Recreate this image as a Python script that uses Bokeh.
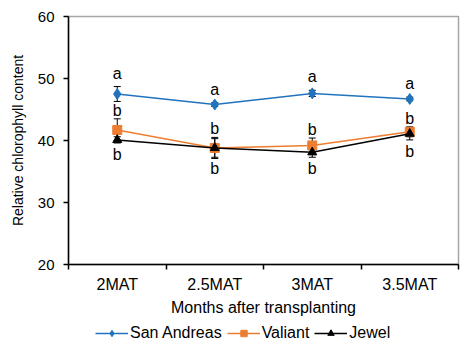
from bokeh.plotting import figure
from bokeh.layouts import column
from bokeh.models import (ColumnDataSource, Whisker, TeeHead, FixedTicker, Legend, LegendItem)
from bokeh.core.properties import value
from bokeh.embed import file_html
from bokeh.resources import INLINE

categories = ["2MAT", "2.5MAT", "3MAT", "3.5MAT"]
san_andreas = [47.5, 45.8, 47.6, 46.7]
san_andreas_err = [1.2, 0.3, 0.5, 0.3]
valiant = [41.7, 38.8, 39.2, 41.4]
valiant_err = [1.8, 1.7, 1.2, 0.8]
jewel = [40.1, 38.8, 38.1, 41.1]
jewel_err = [0.5, 1.5, 0.8, 1.0]
sa_letters = ["a", "a", "a", "a"]
va_letters = ["b", "b", "b", "b"]
je_letters = ["b", "b", "b", "b"]

FONT = "Liberation Sans"
xs = list(range(1, len(categories) + 1))
y_lo, y_hi = 20, 60

p = figure(frame_width=390, frame_height=248, output_backend="svg", toolbar_location=None,
           x_range=(0.5, len(categories) + 0.5), y_range=(y_lo, y_hi),
           min_border_left=68, min_border_right=16, min_border_top=16, min_border_bottom=56)
p.xgrid.visible = False
p.ygrid.visible = False
p.outline_line_color = "#a6a6a6"
p.outline_line_width = 1.5
p.background_fill_color = "white"

# axes
xa = p.xaxis[0]
xa.ticker = FixedTicker(ticks=xs, minor_ticks=[x + 0.5 for x in [0] + xs])
xa.major_label_overrides = {x: c for x, c in zip(xs, categories)}
xa.major_tick_out = 0
xa.major_tick_in = 0
xa.minor_tick_out = 5
xa.minor_tick_in = 0
xa.minor_tick_line_color = "black"
xa.minor_tick_line_width = 1.5
xa.axis_line_color = "black"
xa.axis_line_width = 1.5
xa.major_label_text_font = FONT
xa.major_label_text_font_size = "16px"
xa.major_label_text_color = "black"
xa.major_label_standoff = 6
xa.axis_label = "Months after transplanting"
xa.axis_label_text_font = FONT
xa.axis_label_text_font_size = "16px"
xa.axis_label_text_font_style = "normal"
xa.axis_label_text_color = "black"
xa.axis_label_standoff = 3

ya = p.yaxis[0]
ya.ticker = FixedTicker(ticks=[20, 30, 40, 50, 60], minor_ticks=[])
ya.major_tick_out = 5
ya.major_tick_in = 0
ya.major_tick_line_color = "black"
ya.major_tick_line_width = 1.5
ya.axis_line_color = "black"
ya.axis_line_width = 1.5
ya.major_label_text_font = FONT
ya.major_label_text_font_size = "15px"
ya.major_label_text_color = "black"
ya.major_label_standoff = 9
ya.axis_label = "Relative chlorophyll content"
ya.axis_label_text_font = FONT
ya.axis_label_text_font_size = "14px"
ya.axis_label_text_font_style = "normal"
ya.axis_label_text_color = "black"
ya.axis_label_standoff = 9

# separate strip for the legend below the chart
lp = figure(width=474, height=36, output_backend="svg", toolbar_location=None,
            x_range=(0, 1), y_range=(0, 1), x_axis_location=None, y_axis_location=None,
            min_border=0)
lp.xgrid.visible = False
lp.ygrid.visible = False
lp.outline_line_color = None

series = [
    ("San Andreas", san_andreas, san_andreas_err, "#2173BE", "diamond", 11, sa_letters, "above", -5),
    ("Valiant", valiant, valiant_err, "#ED7D31", "square", 9, va_letters, "above", 0),
    ("Jewel", jewel, jewel_err, "black", "triangle", 9, je_letters, "below", 3),
]

items = []
for name, vals, errs, color, marker, size, letters, pos, off in series:
    src = ColumnDataSource(dict(
        x=xs, y=vals,
        upper=[v + e for v, e in zip(vals, errs)],
        lower=[v - e for v, e in zip(vals, errs)],
        lab=letters,
    ))
    p.line("x", "y", source=src, line_color=color, line_width=1.5)
    w = Whisker(base="x", upper="upper", lower="lower", source=src,
                line_color="black", line_width=1,
                upper_head=TeeHead(size=7, line_color="black", line_width=1),
                lower_head=TeeHead(size=7, line_color="black", line_width=1))
    p.add_layout(w)
    p.scatter("x", "y", source=src, marker=marker, size=size,
              fill_color=color, line_color=color)
    if pos == "above":
        p.text("x", "upper", text="lab", source=src, text_align="center",
               text_baseline="bottom", y_offset=off,
               text_font=value(FONT), text_font_size="16px", text_color="black")
    else:
        p.text("x", "lower", text="lab", source=src, text_align="center",
               text_baseline="top", y_offset=off,
               text_font=value(FONT), text_font_size="16px", text_color="black")
    # legend proxies (same data, hidden) in the legend strip
    lln = lp.line("x", "y", source=src, line_color=color, line_width=1.5, visible=False)
    lsc = lp.scatter("x", "y", source=src, marker=marker, size=size,
                     fill_color=color, line_color=color, visible=False)
    items.append(LegendItem(label=name, renderers=[lln, lsc]))

legend = Legend(items=items, orientation="horizontal", location=(25, 12),
                label_text_font=FONT, label_text_font_size="16px",
                label_text_color="black",
                glyph_width=33, glyph_height=16, label_standoff=2, spacing=5,
                padding=2, margin=0, border_line_alpha=0, background_fill_alpha=0,
                inactive_fill_alpha=0)
lp.add_layout(legend)

open("out.html", "w").write(file_html(column(p, lp, spacing=0), INLINE))
